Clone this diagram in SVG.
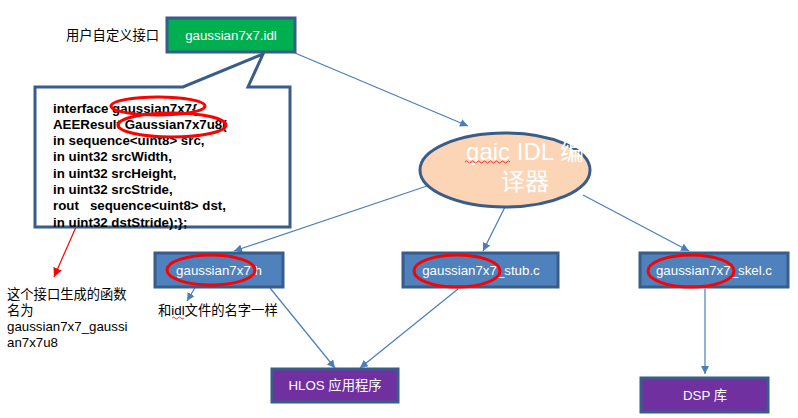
<svg xmlns="http://www.w3.org/2000/svg" width="798" height="418" viewBox="0 0 798 418">
<defs>
<style>
.t{font-family:"Liberation Sans","Noto Sans CJK SC",Arial,sans-serif;font-size:13.3px}
.w{fill:#fff}
.k{fill:#000}
.c{text-anchor:middle}
.code{font-weight:bold;white-space:pre}
.box{stroke:#385D8A;stroke-width:3}
.con{stroke:#4A7EBB;stroke-width:1.2;fill:none;marker-end:url(#ab)}
.red{fill:none;stroke:#FF0000;stroke-width:3}
.sq{fill:none;stroke:#FF0000;stroke-width:0.8}
</style>
<marker id="ab" viewBox="0 0 10 10" refX="10" refY="5" markerWidth="8" markerHeight="8" markerUnits="userSpaceOnUse" orient="auto"><path d="M0,0 L10,5 L0,10 Z" fill="#4A7EBB"/></marker>
<marker id="ar" viewBox="0 0 10 10" refX="10" refY="5" markerWidth="9" markerHeight="9" markerUnits="userSpaceOnUse" orient="auto"><path d="M0,0 L10,5 L0,10 Z" fill="#FF0000"/></marker>
</defs>
<rect width="798" height="418" fill="#fff"/>

<g id="connectors">
<line class="con" x1="295" y1="53" x2="468" y2="126"/>
<line class="con" x1="430" y1="185" x2="234" y2="251"/>
<line class="con" x1="505" y1="207" x2="483" y2="251"/>
<line class="con" x1="583" y1="195" x2="689" y2="251"/>
<line class="con" x1="270" y1="288" x2="335" y2="368"/>
<line class="con" x1="458" y1="289" x2="360" y2="368"/>
<line class="con" x1="705" y1="289" x2="705" y2="374"/>
<line class="con" x1="196" y1="286" x2="187" y2="301"/>
<line stroke="#FF0000" stroke-width="1.2" marker-end="url(#ar)" x1="120" y1="127" x2="54" y2="277"/>
</g>

<g id="label-user">
<text class="t k" x="66" y="40">用户自定义接口</text>
</g>

<g id="idl">
<rect class="box" x="167" y="18" width="128" height="34" fill="#00B050"/>
<text class="t w c" x="231" y="40">gaussian7x7.idl</text>
</g>

<g id="callout">
<path class="box" fill="#fff" d="M35,87 L183,87 L263,54 L248,87 L290,87 L290,227 L35,227 Z"/>
<text class="t k code" x="53" y="112.5">interface gaussian7x7{</text>
<text class="t k code" x="53" y="128.8">AEEResult Gaussian7x7u8(</text>
<text class="t k code" x="53" y="145.1">in sequence&lt;uint8&gt; src,</text>
<text class="t k code" x="53" y="161.4">in uint32 srcWidth,</text>
<text class="t k code" x="53" y="177.7">in uint32 srcHeight,</text>
<text class="t k code" x="53" y="194">in uint32 srcStride,</text>
<text class="t k code" x="53" y="210.3">rout   sequence&lt;uint8&gt; dst,</text>
<text class="t k code" x="53" y="226.6">in uint32 dstStride);};</text>
<ellipse class="red" cx="158" cy="106" rx="47" ry="9"/>
<ellipse class="red" cx="172" cy="125" rx="54" ry="12"/>
</g>

<g id="note-func">
<text class="t k" x="7" y="299">这个接口生成的函数</text>
<text class="t k" x="7" y="315">名为</text>
<text class="t k" x="7" y="331">gaussian7x7_gaussi</text>
<text class="t k" x="7" y="347">an7x7u8</text>
</g>

<g id="compiler">
<ellipse cx="505" cy="170" rx="85" ry="37" fill="#FBD5B5" stroke="#385D8A" stroke-width="3"/>
<text class="t w c" style="font-size:24px" x="525" y="160">gaic IDL 编</text>
<text class="t w c" style="font-size:24px" x="525" y="190">译器</text>
<path class="sq" d="M465,162 q1.5,-2 3,0 t3,0 t3,0 t3,0 t3,0 t3,0 t3,0 t3,0 t3,0 t3,0 t3,0 t3,0 t3,0 t3,0 t3,0"/>
</g>

<g id="h-file">
<rect class="box" x="155" y="253" width="128" height="34" fill="#4F81BD"/>
<text class="t w c" x="219" y="275">gaussian7x7.h</text>
<ellipse class="red" cx="211" cy="270" rx="44" ry="15"/>
</g>

<g id="note-name">
<text class="t k" x="158" y="315">和idl文件的名字一样</text>
<path class="sq" d="M172,318 q1.5,-2 3,0 t3,0 t3,0 t3,0"/>
</g>

<g id="stub">
<rect class="box" x="403" y="253" width="155" height="34" fill="#4F81BD"/>
<text class="t w c" x="481" y="275">gaussian7x7_stub.c</text>
<ellipse class="red" cx="457" cy="271" rx="43" ry="16"/>
</g>

<g id="skel">
<rect class="box" x="640" y="253" width="148" height="34" fill="#4F81BD"/>
<text class="t w c" x="714" y="275">gaussian7x7_skel.c</text>
<ellipse class="red" cx="691" cy="271" rx="43" ry="16"/>
</g>

<g id="hlos">
<rect class="box" x="272" y="369" width="126" height="33" fill="#7030A0"/>
<text class="t w c" x="335" y="390">HLOS 应用程序</text>
</g>

<g id="dsp">
<rect class="box" x="641" y="378" width="127" height="34" fill="#7030A0"/>
<text class="t w c" x="705" y="400">DSP 库</text>
</g>
</svg>
